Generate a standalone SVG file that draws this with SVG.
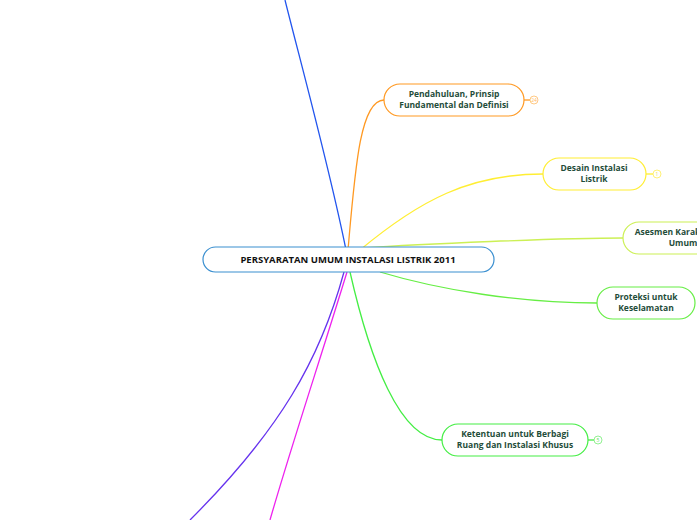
<svg xmlns="http://www.w3.org/2000/svg" width="697" height="520" viewBox="0 0 697 520">
<style>
.n{fill:#fff;stroke-width:1.2}
.t{font-family:"Open Sans","Noto Sans",sans-serif;font-size:8.5px;font-weight:bold;fill:#1f4d3a;text-anchor:middle}
.c{fill:none;stroke-width:1.3}
.b{fill:#fff;stroke-width:0.8}
.bt{font-family:"Open Sans",sans-serif;font-size:5px;text-anchor:middle}
</style>
<rect width="697" height="520" fill="#fff"/>
<g id="connectors">
<path class="c" stroke="#2255ee" d="M346 250 C330 170 300 60 285 0"/>
<path class="c" stroke="#ff9922" d="M348 250 C355 170 360 100 384 100"/>
<path class="c" stroke="#ffee33" d="M360 250 C420 200 470 174 543 174"/>
<path class="c" stroke="#ccf055" d="M362 248 C420 244 560 238 623 238"/>
<path class="c" stroke="#66ee44" d="M380 272 C440 290 520 303 597 303"/>
<path class="c" stroke="#44ee44" d="M350 272 C370 360 400 440 442 440"/>
<path class="c" stroke="#6633ee" d="M344 272 C320 360 280 430 190 520"/>
<path class="c" stroke="#ee22ee" d="M347 272 C320 360 290 450 270 520"/>
<path class="c" stroke="#ff9922" d="M524 100 H530"/>
<path class="c" stroke="#ffee33" d="M646 174 H653"/>
<path class="c" stroke="#44ee44" d="M588 440 H594"/>
</g>
<g id="center"><rect class="n" stroke="#3a8fd0" x="203" y="247" width="291" height="25" rx="12.5"/><text class="t" style="font-size:9.5px;fill:#111" x="348" y="263">PERSYARATAN UMUM INSTALASI LISTRIK 2011</text></g>
<g id="n1"><rect class="n" stroke="#ff9922" x="384" y="84" width="140" height="32" rx="16"/><text class="t" x="454" y="97">Pendahuluan, Prinsip</text><text class="t" x="454" y="108">Fundamental dan Definisi</text><circle class="b" stroke="#ffbb66" cx="534" cy="100" r="4"/><text class="bt" fill="#ffbb66" x="534" y="102">24</text></g>
<g id="n2"><rect class="n" stroke="#ffee33" x="543" y="158" width="103" height="32" rx="16"/><text class="t" x="594" y="171">Desain Instalasi</text><text class="t" x="594" y="182">Listrik</text><circle class="b" stroke="#ffee55" cx="657" cy="174" r="4"/><text class="bt" fill="#eedd44" x="657" y="176">1</text></g>
<g id="n3"><rect class="n" stroke="#ccf055" x="623" y="222" width="120" height="32" rx="16"/><text class="t" x="683" y="235">Asesmen Karakteristik</text><text class="t" x="683" y="246">Umum</text></g>
<g id="n4"><rect class="n" stroke="#66ee44" x="597" y="287" width="98" height="32" rx="16"/><text class="t" x="646" y="300">Proteksi untuk</text><text class="t" x="646" y="311">Keselamatan</text></g>
<g id="n5"><rect class="n" stroke="#44ee44" x="442" y="424" width="146" height="32" rx="16"/><text class="t" x="515" y="437">Ketentuan untuk Berbagi</text><text class="t" x="515" y="448">Ruang dan Instalasi Khusus</text><circle class="b" stroke="#77ee77" cx="598" cy="440" r="4"/><text class="bt" fill="#66dd66" x="598" y="442">5</text></g>
</svg>
